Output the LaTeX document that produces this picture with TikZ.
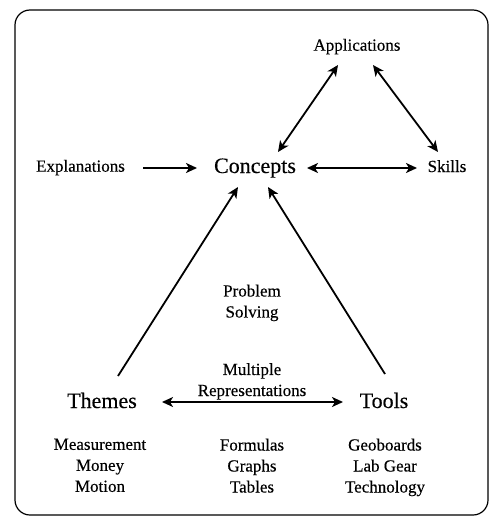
\documentclass[tikz,border=0pt]{standalone}
\usepackage{fontspec}
\setmainfont{Liberation Serif}[FakeBold=0.3]
\usetikzlibrary{arrows.meta}
\tikzset{
	word/.style={font=\fontsize{17}{21}\selectfont, inner sep=0pt},
	list/.style={word, align=center, anchor=north},
	big/.style={font=\fontsize{22}{26}\selectfont, inner sep=0pt, anchor=base},
	tip/.tip={Stealth[length=11pt,width=10pt,inset=3pt]},
	link/.style={line width=1.8pt, -tip},
	both/.style={line width=1.8pt, tip-tip}
}
\begin{document}
\begin{tikzpicture}[x=1pt,y=-1pt]
			\useasboundingbox (0,0) rectangle (502,530);
			\draw[line width=1.2pt, rounded corners=15pt] (15,10) rectangle (488,515);
			% top row
			\node[word, anchor=base] (appl) at (357,50.7) {Applications};
			\node[word, anchor=base] (expl) at (80.5,171.7) {Explanations};
			\node[big] (concepts) at (255,173) {Concepts};
			\node[word, anchor=base] (skills) at (447,172) {Skills};
			% middle
			\node[list] (problem) at (252,284.5) {Problem\\Solving};
			\node[list] (multiple) at (252,363) {Multiple\\Representations};
			% bottom row
			\node[big] (themes) at (102,408) {Themes};
			\node[big] (tools) at (384,408) {Tools};
			\node[list] (themelist) at (100,438.5) {Measurement\\Money\\Motion};
			\node[list] (replist) at (252,438.5) {Formulas\\Graphs\\Tables};
			\node[list] (toollist) at (385,438.5) {Geoboards\\Lab Gear\\Technology};
			% connectors
			\draw[link] ([shift={(62.5,-3.7)}]expl.base) -- ([shift={(-58,-5)}]concepts.base);
			\draw[both] ([shift={(52,-5)}]concepts.base) -- ([shift={(-30,-4)}]skills.base);
			\draw[both] ([shift={(23,-21)}]concepts.base) -- ([shift={(-19,14.3)}]appl.base);
			\draw[both] ([shift={(16,14.3)}]appl.base) -- ([shift={(-9,-20)}]skills.base);
			\draw[link] ([shift={(16,-32)}]themes.base) -- ([shift={(-17,14)}]concepts.base);
			\draw[link] ([shift={(1,-34)}]tools.base) -- ([shift={(13,14)}]concepts.base);
			\draw[both] ([shift={(60,-6)}]themes.base) -- ([shift={(-41,-6)}]tools.base);
		\end{tikzpicture}
\end{document}
